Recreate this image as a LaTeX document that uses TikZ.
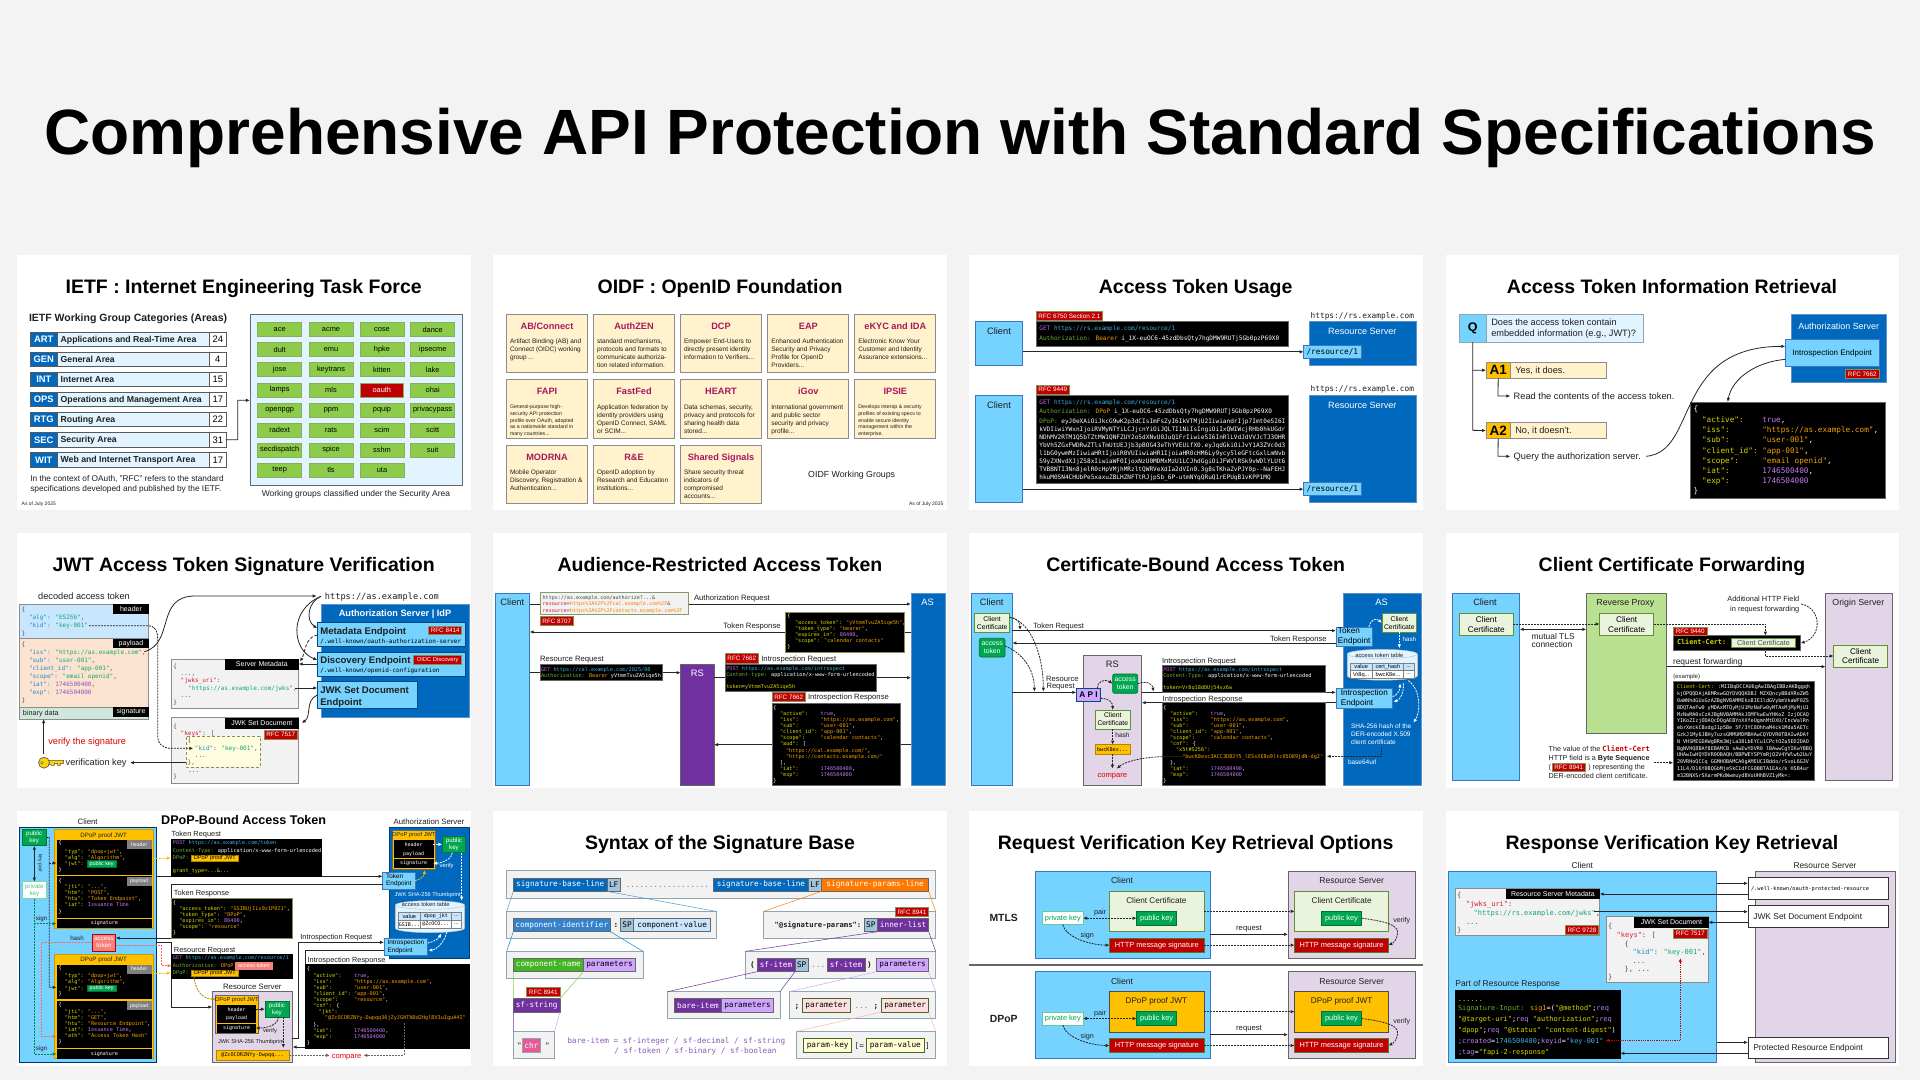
\documentclass[tikz,border=0pt]{standalone}
\usepackage{fontspec}
\setmainfont{Liberation Sans}
\newfontfamily\mono{DejaVu Sans Mono}
\usetikzlibrary{arrows.meta,calc}
\definecolor{pagebg}{HTML}{F3F3F3}
\definecolor{lbl}{HTML}{76D2FF}
\definecolor{lbd}{HTML}{3A78BE}
\definecolor{dbl}{HTML}{0069BE}
\definecolor{pal}{HTML}{E1F4FF}
\definecolor{pur}{HTML}{E1D5E7}
\definecolor{rfc}{HTML}{C00000}
\definecolor{olv}{HTML}{8C8C55}
\definecolor{gcell}{HTML}{8CCC4A}
\definecolor{cream}{HTML}{FFF2CC}
\definecolor{pink}{HTML}{A8185C}
\definecolor{org}{HTML}{FFC000}
\definecolor{grn}{HTML}{00A650}
\definecolor{cert}{HTML}{EAF3DC}
\definecolor{gry}{HTML}{F2F2F2}
\definecolor{bdr}{HTML}{8C8C8C}
\definecolor{jkey}{HTML}{D8D800}
\definecolor{jstr}{HTML}{F0A000}
\definecolor{jnum}{HTML}{C07CF5}
\definecolor{hmeth}{HTML}{C060E0}
\definecolor{hurl}{HTML}{40B0E0}
\definecolor{hhdr}{HTML}{70B030}
\definecolor{lkey}{HTML}{1E8CC8}
\definecolor{lstr}{HTML}{10A870}
\definecolor{lred}{HTML}{D02030}
\definecolor{lnum}{HTML}{9050C0}
\definecolor{dpur}{HTML}{7030A0}
\definecolor{lpur}{HTML}{CFA5FF}
\definecolor{spg}{HTML}{A3C3D8}
\definecolor{sbd}{HTML}{8FA5B0}
\definecolor{rpink}{HTML}{F4817A}
\definecolor{hdrf}{HTML}{C9E6FF}
\definecolor{plf}{HTML}{FBE3D0}
\definecolor{sgf}{HTML}{D0E8DC}
\definecolor{cellb}{HTML}{C9E6FF}
\newcommand\jK[1]{\textcolor{jkey}{#1}}
\newcommand\jS[1]{\textcolor{jstr}{#1}}
\newcommand\jN[1]{\textcolor{jnum}{#1}}
\newcommand\hM[1]{\textcolor{hmeth}{#1}}
\newcommand\hU[1]{\textcolor{hurl}{#1}}
\newcommand\hH[1]{\textcolor{hhdr}{#1}}
\newcommand\lK[1]{\textcolor{lkey}{#1}}
\newcommand\lS[1]{\textcolor{lstr}{#1}}
\newcommand\lR[1]{\textcolor{lred}{#1}}
\newcommand\lN[1]{\textcolor{lnum}{#1}}
\newcommand\fs[1]{\fontsize{#1}{\fpeval{1.18*#1}}\selectfont}
\newcount\tn
\newcommand\bx[7][]{%
 \pgfmathsetmacro\bxw{(#5-(#3))/3}\pgfmathsetmacro\bxh{(#6-(#4))/3}%
 \node[box,#1,minimum width=\bxw pt,minimum height=\bxh pt] (#2) at ({(#3+#5)/2},{(#4+#6)/2}) {#7};}
\newcommand\tl[5][]{\global\advance\tn by 1 \node[txt,anchor=base west,font=\fs{#4},#1] (t\the\tn) at (#2,{#3+1.05*#4}) {#5};}
\newcommand\tc[5][]{\global\advance\tn by 1 \node[txt,anchor=base,font=\fs{#4},#1] (t\the\tn) at (#2,{#3+1.05*#4}) {#5};}
\newcommand\tr[5][]{\global\advance\tn by 1 \node[txt,anchor=base east,font=\fs{#4},#1] (t\the\tn) at (#2,{#3+1.05*#4}) {#5};}
\def\cz{6}
\newcommand\cl[4][]{\global\advance\tn by 1 \node[txt,anchor=base west,text=white,font=\mono\fs{\cz},#1] (t\the\tn) at (#2,{#3+1.05*\cz}) {#4};}
\newcommand\ptitle[4]{\global\advance\tn by 1 \node[txt,anchor=base,text=black,font=\bfseries\fs{#3}] (t\the\tn) at (#1,{#2+3+1.05*#3}) {#4};}
\newcommand\rfcb[6][6.3]{\bx[rfcs,font=\fs{#1}]{#2}{#3}{#4}{#5}{#6}}
\newcommand\Q[1]{\hspace*{\fpeval{#1*0.602}em}}
\newcommand\cpt[3]{\coordinate (#1) at (#2,#3);}
\newcommand\oc[8]{\bx[ocell]{#1}{#2}{#3}{#2+243}{#3+176}{}%
 \tc[text=pink,font=\bfseries\fs{9.2}]{#2+122}{#3+37}{9.2}{#4}%
 \tl{#2+11}{#3+83}{6.5}{#5}\tl{#2+11}{#3+107}{6.5}{#6}\tl{#2+11}{#3+131}{6.5}{#7}\tl{#2+11}{#3+155}{6.5}{#8}}
\tikzset{
 pn/.style 2 args={shift={(#1,#2)},x=0.33333pt,y=-0.33333pt},
 box/.style={draw,inner sep=0pt,outer sep=0pt,align=center,line width=.7pt},
 txt/.style={inner sep=0pt,outer sep=0pt,text=black!88},
 rfcs/.style={box,fill=rfc,draw=olv,text=white},
 blk/.style={box,fill=black,draw=black!60,text=white},
 blue/.style={box,fill=lbl,draw=lbd},
 dblue/.style={box,fill=dbl,draw=lbd!80!white,text=white},
 plum/.style={box,fill=pur,draw=black!60},
 crt/.style={box,fill=cert,draw=gcell!70!black},
 ocell/.style={box,fill=cream,draw=bdr},
 grycell/.style={box,fill=gry,draw=bdr},
 gnb/.style={box,fill=grn,draw=grn!70!black,text=white},
 orb/.style={box,fill=org,draw=org!70!black},
 pk/.style={box,fill=white,draw=grn!60,text=grn},
 ln/.style={line width=.8pt,draw=black!85},
 ar/.style={ln,-{Latex[length=4pt,width=3.4pt]}},
 bar/.style={ln,{Latex[length=4pt,width=3.4pt]}-{Latex[length=4pt,width=3.4pt]}},
 dar/.style={ar,dash pattern=on 2pt off 1pt},
 dbar/.style={bar,dash pattern=on 2pt off 1pt},
 war/.style={dar,draw=white},
 tagk/.style={box,fill=black,draw=black,text=white,font=\fs{7}},
 tagg/.style={box,fill=black!50,draw=black!50,text=white,font=\fs{5.2}},
 sm/.style={box,line width=.9pt,font=\mono\fs{7.7},draw=black!60},
 sbox/.style={box,fill=gry,draw=sbd,line width=.9pt},
 fan/.style={line width=.5pt}
}
\begin{document}
\begin{tikzpicture}[x=1pt,y=-1pt]
\useasboundingbox (0,0) rectangle (1920,1080);
\fill[pagebg] (0,0) rectangle (1920,1080);
\node[txt,anchor=base,text=black,font=\bfseries\fs{64}] (maintitle) at (960,154) {Comprehensive API Protection with Standard Specifications};

% ---------------- Panel 1
\begin{scope}[pn={15}{252},name prefix=p1-]
\fill[white] (6,9) rectangle (1367,773);
\ptitle{686}{100}{19.5}{IETF : Internet Engineering Task Force}
\tl[font=\bfseries\fs{10.5}]{42}{196}{10.5}{IETF Working Group Categories (Areas)}
\newcommand\arow[6]{%
 \bx[fill=pal,draw=black!65,anchor=center]{#1b}{128}{#2}{584}{#3}{}%
 \bx[fill=dbl,draw=black!65,text=white,font=\bfseries\fs{9.4}]{#1a}{45}{#2}{128}{#3}{#4}%
 \bx[fill=white,draw=black!65,font=\fs{9.4}]{#1n}{584}{#2}{633}{#3}{#6}%
 \tl[font=\bfseries\fs{8.7}]{137}{(#2+#3)/2}{8.7}{#5}}
\arow{art}{240}{284}{ART}{Applications and Real-Time Area}{24}
\arow{gen}{301}{344}{GEN}{General Area}{4}
\arow{int}{361}{404}{INT}{Internet Area}{15}
\arow{ops}{422}{464}{OPS}{Operations and Management Area}{17}
\arow{rtg}{482}{524}{RTG}{Routing Area}{22}
\arow{sec}{542}{585}{SEC}{Security Area}{31}
\arow{wit}{602}{645}{WIT}{Web and Internet Transport Area}{17}
\tl{46}{680}{8.3}{In the context of OAuth, "RFC" refers to the standard}
\tl{46}{711}{8.3}{specifications developed and published by the IETF.}
\tl{20}{755}{5}{As of July 2025}
\bx[fill=pal,draw=black!60]{wg}{705}{188}{1342}{700}{}
\newcommand\gc[4][gcell]{\bx[fill=#1,draw=gcell!60!gray,font=\fs{7.4}]{g#3#2}{#2}{#3-21}{#2+132}{#3+21}{#4}}
\gc{728}{233}{ace}\gc{882}{233}{acme}\gc{1035}{233}{cose}\gc{1187}{233}{dance}
\gc{728}{293}{dult}\gc{882}{293}{emu}\gc{1035}{293}{hpke}\gc{1187}{293}{ipsecme}
\gc{728}{353}{jose}\gc{882}{353}{keytrans}\gc{1035}{353}{kitten}\gc{1187}{353}{lake}
\gc{728}{414}{lamps}\gc{882}{414}{mls}
\bx[fill=rfc,draw=gcell!60!gray,text=white,font=\fs{7.4}]{oauth}{1035}{393}{1166}{435}{oauth}
\gc{1187}{414}{ohai}
\gc{728}{474}{openpgp}\gc{882}{474}{ppm}\gc{1035}{474}{pquip}\gc{1187}{474}{privacypass}
\gc{728}{534}{radext}\gc{882}{534}{rats}\gc{1035}{534}{scim}\gc{1187}{534}{scitt}
\gc{728}{594}{secdispatch}\gc{882}{594}{spice}\gc{1035}{594}{sshm}\gc{1187}{594}{suit}
\gc{728}{655}{teep}\gc{882}{655}{tls}\gc{1035}{655}{uta}
\tc{1023}{725}{8.5}{Working groups classified under the Security Area}
\cpt{wgin}{705}{445}
\draw[ar] (secn.east) -- (668,563) -- (668,445) -- (wgin);
\end{scope}

% ---------------- Panel 2
\begin{scope}[pn={490}{252},name prefix=p2-]
\fill[white] (9,9) rectangle (1371,773);
\ptitle{690}{100}{19.5}{OIDF : OpenID Foundation}
\oc{a}{49}{186}{AB/Connect}{Artifact Binding (AB) and}{Connect (OIDC) working}{group ...}{}
\oc{b}{310}{186}{AuthZEN}{standard mechanisms,}{protocols and formats to}{communicate authoriza-}{tion related information.}
\oc{c}{571}{186}{DCP}{Empower End-Users to}{directly present identity}{information to Verifiers...}{}
\oc{d}{833}{186}{EAP}{Enhanced Authentication}{Security and Privacy}{Profile for OpenID}{Providers...}
\oc{e}{1094}{186}{eKYC and IDA}{Electronic Know Your}{Customer and Identity}{Assurance extensions...}{}
\oc{f}{49}{382}{FAPI}{}{}{}{}
\tl{60}{464}{5.2}{General-purpose high-}\tl{60}{484}{5.2}{security API protection}\tl{60}{505}{5.2}{profile over OAuth, adopted}\tl{60}{525}{5.2}{as a nationwide standard in}\tl{60}{546}{5.2}{many countries...}
\oc{g}{310}{382}{FastFed}{Application federation by}{identity providers using}{OpenID Connect, SAML}{or SCIM...}
\oc{h}{571}{382}{HEART}{Data schemas, security,}{privacy and protocols for}{sharing health data}{stored...}
\oc{i}{833}{382}{iGov}{International government}{and public sector}{security and privacy}{profile...}
\oc{j}{1094}{382}{IPSIE}{}{}{}{}
\tl{1105}{464}{5.2}{Develops interop \& security}\tl{1105}{484}{5.2}{profiles of existing specs to}\tl{1105}{505}{5.2}{enable secure identity}\tl{1105}{525}{5.2}{management within the}\tl{1105}{546}{5.2}{enterprise.}
\oc{k}{49}{579}{MODRNA}{Mobile Operator}{Discovery, Registration \&}{Authentication...}{}
\oc{l}{310}{579}{R\&E}{OpenID adoption by}{Research and Education}{institutions...}{}
\oc{m}{571}{579}{Shared Signals}{Share security threat}{indicators of}{compromised}{accounts...}
\tc{1085}{668}{8.8}{OIDF Working Groups}
\tr{1360}{755}{5}{As of July 2025}
\end{scope}

% ---------------- Panel 3
\begin{scope}[pn={965}{252},name prefix=p3-]
\fill[white] (12,9) rectangle (1374,773);
\ptitle{692}{100}{19.5}{Access Token Usage}
\def\cz{6.1}
\bx[blue]{c1}{31}{209}{173}{339}{}\tc{102}{238}{9.3}{Client}
\bx[dblue]{rs1}{1032}{209}{1354}{339}{}\tc[text=white]{1192}{238}{9.1}{Resource Server}
\tc[font=\mono\fs{7.8}]{1192}{190}{7.8}{https://rs.example.com}
\bx[blue,font=\mono\fs{7.8}]{r1}{1016}{280}{1188}{319}{/resource/1}
\draw[ar] (c1.east |- r1.west) -- (r1.west);
\bx[blk]{b1}{213}{209}{970}{283}{}
\rfcb{t1}{213}{177}{413}{206}{RFC 6750 Section 2.1}
\cl{223}{230}{\hM{GET} \hU{https://rs.example.com/resource/1}}
\cl{223}{258}{\hH{Authorization:} \jS{Bearer} i\_1X-euOC6-45zdDbsQty7hgDMW9RUTj5Gb0pzP69X0}
\bx[blue]{c2}{31}{430}{173}{752}{}\tc{102}{459}{9.3}{Client}
\bx[dblue]{rs2}{1032}{430}{1354}{752}{}\tc[text=white]{1192}{459}{9.1}{Resource Server}
\tc[font=\mono\fs{7.8}]{1192}{411}{7.8}{https://rs.example.com}
\bx[blue,font=\mono\fs{7.8}]{r2}{1016}{692}{1188}{731}{/resource/1}
\draw[ar] (c2.east |- r2.west) -- (r2.west);
\bx[blk]{b2}{213}{431}{970}{695}{}
\rfcb{t2}{213}{399}{314}{427}{RFC 9449}
\cl{223}{451}{\hM{GET} \hU{https://rs.example.com/resource/1}}
\cl{223}{479}{\hH{Authorization:} \jS{DPoP} i\_1X-euOC6-45zdDbsQty7hgDMW9RUTj5Gb0pzP69X0}
\cl{223}{507}{\hH{DPoP:} eyJ0eXAiOiJkcG9wK2p3dCIsImFsZyI6IkVTMjU2IiwiandrIjp7Imt0eSI6I}
\cl{223}{531}{kVDIiwiYWxnIjoiRVMyNTYiLCJjcnYiOiJQLTI1NiIsIngiOiIxQWIWcjRHb0hkUGdr}
\cl{223}{555}{NDhMV2RTM1Q5bTZtMW1QNFZUY2o5dXNvU0JuQ1FrIiwieSI6InRlLVdJdVVJcTJ3OHR}
\cl{223}{579}{YbVh5ZGxFWDRwZTlsTmUtUEJjb3pBOG43eThYVEUifX0.eyJqdGkiOiJvY1A3ZVc0d3}
\cl{223}{603}{l1bG0ywmMzIiwiaHRtIjoiR0VUIiwiaHR1IjoiaHR0cHM6Ly9ycy5leGFtcGxlLmNvb}
\cl{223}{627}{S9yZXNvdXJjZS8xIiwiaWF0IjoxNzU0MDMxMzU1LCJhdGgiOiJFWVlRSk9vWDlYLUt6}
\cl{223}{651}{TVBBNTI3Nn8jelR0cHpVMjhMRzltQWRVeXdIa2dVIn0.3g8sTKhaZvPJY0p--NaFEHJ}
\cl{223}{675}{hkuM0SN4CHUbPe5xaxuZBLHZNFTtRJjpSb\_6P-utmNYqQRuQ1rEPUqB1vKPP1MQ}
\end{scope}

% ---------------- Panel 4
\begin{scope}[pn={1442}{252},name prefix=p4-]
\fill[white] (12,9) rectangle (1371,773);
\ptitle{690}{100}{19.5}{Access Token Information Retrieval}
\bx[blue,draw=sbd,font=\bfseries\fs{12.5}]{q}{52}{188}{133}{270}{Q}
\bx[fill=pal,draw=sbd]{qt}{133}{188}{605}{270}{}
\tl{148}{212}{9.2}{Does the access token contain}
\tl{148}{245}{9.2}{embedded information (e.g., JWT)?}
\bx[fill=org,draw=bdr,font=\bfseries\fs{13.5}]{a1}{132}{330}{205}{379}{A1}
\bx[ocell]{a1t}{205}{330}{494}{379}{}\tl{220}{355}{9.2}{Yes, it does.}
\bx[fill=org,draw=bdr,font=\bfseries\fs{13.5}]{a2}{132}{511}{205}{560}{A2}
\bx[ocell]{a2t}{205}{511}{494}{560}{}\tl{220}{535}{9.2}{No, it doesn't.}
\draw[ln] (q.south) -- (92,535);
\draw[ar] (92,355) -- (a1.west);
\draw[ar] (92,535) -- (a2.west);
\cpt{r1}{205}{432}\cpt{r2}{205}{613}
\tl{215}{432}{9.3}{Read the contents of the access token.}
\tl{215}{613}{9.3}{Query the authorization server.}
\draw[ar] (a1.south) -- (168,432) -- (r1);
\draw[ar] (a2.south) -- (168,613) -- (r2);
\bx[dblue]{as}{1049}{188}{1332}{390}{}
\tc[text=white]{1190}{222}{8.9}{Authorization Server}
\bx[blue,font=\fs{8}]{ie}{1030}{263}{1311}{343}{Introspection Endpoint}
\rfcb{t}{1211}{352}{1311}{379}{RFC 7662}
\bx[blk]{b}{744}{452}{1330}{739}{}
\cpt{qs}{612}{613}\cpt{ii}{1030}{283}\cpt{io}{1030}{322}\cpt{bt}{857}{450}
\draw[ar] (qs) .. controls (770,600) and (690,283) .. (ii);
\draw[ar] (io) .. controls (940,330) and (870,380) .. (bt);
\def\cz{7.7}
\cl{755}{471}{\{}
\cl{780}{502}{\jK{"active":}\Q{4}\jN{true},}
\cl{780}{533}{\jK{"iss":}\Q{7}\jS{"https://as.example.com"},}
\cl{780}{564}{\jK{"sub":}\Q{7}\jS{"user-001"},}
\cl{780}{595}{\jK{"client\_id":}\Q{1}\jS{"app-001"},}
\cl{780}{625}{\jK{"scope":}\Q{5}\jS{"email openid"},}
\cl{780}{656}{\jK{"iat":}\Q{7}\jN{1746500400},}
\cl{780}{686}{\jK{"exp":}\Q{7}\jN{1746504000}}
\cl{755}{717}{\}}
\end{scope}

% ---------------- Panel 5
\begin{scope}[pn={15}{530},name prefix=p5-]
\fill[white] (6,9) rectangle (1367,773);
\ptitle{686}{100}{19.5}{JWT Access Token Signature Verification}
\tc{207}{199}{9.2}{decoded access token}
\def\cz{6}
\bx[fill=hdrf,draw=bdr]{hd}{14}{222}{400}{325}{}
\bx[tagk]{hdt}{296}{222}{400}{249}{header}
\cl[text=black!70]{20}{238}{\{}
\cl[text=black!70]{42}{263}{\lK{"alg":} \lS{"ES256"},}
\cl[text=black!70]{42}{287}{\lK{"kid":} \lS{"key-001"}}
\cl[text=black!70]{20}{311}{\}}
\bx[fill=plf,draw=bdr]{pl}{14}{325}{400}{531}{}
\bx[tagk]{plt}{296}{327}{400}{353}{payload}
\cl[text=black!70]{20}{343}{\{}
\cl[text=black!70]{42}{367}{\lK{"iss":} \lS{"https://as.example.com"},}
\cl[text=black!70]{42}{391}{\lK{"sub":} \lS{"user-001"},}
\cl[text=black!70]{42}{415}{\lK{"client\_id":} \lS{"app-001"},}
\cl[text=black!70]{42}{439}{\lK{"scope":} \lS{"email openid"},}
\cl[text=black!70]{42}{463}{\lK{"iat":} \lN{1746500400},}
\cl[text=black!70]{42}{487}{\lK{"exp":} \lN{1746504000}}
\cl[text=black!70]{20}{511}{\}}
\bx[fill=sgf,draw=bdr]{sg}{14}{531}{400}{567}{}
\bx[tagk]{sgt}{296}{533}{400}{559}{signature}
\tl{24}{549}{7.2}{binary data}
\tl[font=\mono\fs{8.6}]{930}{200}{8.6}{https://as.example.com}
\cpt{https}{918}{199}
\bx[dblue]{as}{918}{222}{1362}{562}{}
\tc[text=white,font=\bfseries\fs{9.2}]{1140}{250}{9.2}{Authorization Server | IdP}
\bx[blue,draw=dbl!70!black]{me}{907}{278}{1350}{350}{}
\tl[font=\bfseries\fs{9.6}]{916}{302}{9.6}{Metadata Endpoint}
\cl[text=black]{916}{333}{/.well-known/oauth-authorization-server}
\rfcb{t1}{1241}{288}{1340}{314}{RFC 8414}
\bx[blue,draw=dbl!70!black]{de}{907}{367}{1350}{438}{}
\tl[font=\bfseries\fs{9.6}]{916}{391}{9.6}{Discovery Endpoint}
\cl[text=black]{916}{421}{/.well-known/openid-configuration}
\rfcb[5.8]{t2}{1196}{376}{1340}{402}{OIDC Discovery}
\bx[blue,draw=dbl!70!black]{jw}{907}{455}{1208}{535}{}
\tl[font=\bfseries\fs{9.6}]{916}{480}{9.6}{JWK Set Document}
\tl[font=\bfseries\fs{9.6}]{916}{515}{9.6}{Endpoint}
\bx[grycell]{sm}{468}{387}{851}{535}{}
\bx[tagk]{smt}{630}{387}{851}{417}{Server Metadata}
\cl[text=black!70]{475}{408}{\{}
\cl[text=black!70]{497}{431}{...,}
\cl[text=black!70]{497}{451}{\lR{"jwks\_uri"}:}
\cl[text=black!70]{520}{474}{\lS{"https://as.example.com/jwks"},}
\cl[text=black!70]{497}{497}{...}
\cl[text=black!70]{475}{516}{\}}
\bx[grycell]{js}{468}{563}{851}{760}{}
\bx[tagk]{jst}{630}{564}{851}{594}{JWK Set Document}
\rfcb{t3}{747}{600}{847}{628}{RFC 7517}
\bx[fill=yellow!12!white,draw=olv,densely dashed]{kb}{513}{619}{735}{712}{}
\cl[text=black!70]{475}{588}{\{}
\cl[text=black!70]{497}{610}{\lR{"keys"}: [}
\cl[text=black!70]{518}{632}{\{}
\cl[text=black!70]{540}{654}{\lK{"kid"}: \lS{"key-001"},}
\cl[text=black!70]{540}{677}{...}
\cl[text=black!70]{518}{696}{\},}
\cl[text=black!70]{520}{720}{...}
\cl[text=black!70]{475}{740}{\}}
\cpt{kid}{222}{287}\cpt{kt}{535}{655}\cpt{iss}{388}{365}\cpt{ji}{840}{474}
\cpt{m1}{907}{295}\cpt{m2}{907}{315}\cpt{d1}{907}{390}\cpt{s1}{855}{395}\cpt{j1}{907}{495}\cpt{j2}{860}{579}
\draw[dar] (kid) -- (395,287) .. controls (425,287) and (428,305) .. (428,330) -- (428,615) .. controls (428,645) and (445,655) .. (470,655) -- (kt);
\draw[ar] (iss) .. controls (480,340) and (420,198) .. (540,198) -- (905,198);
\draw[ar] (https) .. controls (880,215) and (870,270) .. (m1);
\draw[ar] (https) .. controls (820,240) and (830,360) .. (d1);
\draw[ln,densely dashed,-{Latex[length=4pt,width=3.4pt]}] (m2) .. controls (870,320) and (870,370) .. (s1);
\draw[ar] (de.west |- smt.east) -- (smt.east);
\draw[ar] (ji) -- (jw.west |- ji);
\draw[ar] (j1) .. controls (870,510) and (890,560) .. (j2);
\cpt{kl}{513}{698}\cpt{vk}{345}{698}\cpt{ku}{86}{672}
\draw[ar] (kl) -- (vk);
\draw[ar] (ku) -- (sg.south -| ku);
\tl[text=red!85!black]{100}{635}{9.2}{verify the signature}
\tl{152}{698}{9.2}{verification key}
\fill[org!70!yellow,draw=black!70,line width=.6pt] (100,691) -- (146,691) -- (146,700) -- (136,700) -- (136,706) -- (128,706) -- (128,700) -- (118,700) -- (118,706) -- (110,706) -- (106,704) -- (100,704) -- cycle;
\fill[org!70!yellow,draw=black!70,line width=.6pt] (87,698) circle [radius=5.5pt];
\fill[white,draw=black!70,line width=.4pt] (81,698) circle [radius=1.3pt];
\end{scope}

% ---------------- Panel 6
\begin{scope}[pn={490}{530},name prefix=p6-]
\fill[white] (9,9) rectangle (1371,773);
\ptitle{690}{100}{19.5}{Audience-Restricted Access Token}
\def\cz{5.2}
\bx[blue]{cl}{16}{189}{119}{767}{}\tc{67}{218}{9.3}{Client}
\bx[dblue]{as}{1263}{189}{1365}{767}{}\tc[text=white]{1313}{218}{9.3}{AS}
\bx[fill=dpur,draw=black!60,text=white]{rs}{572}{402}{672}{767}{}\tc[text=white]{622}{431}{9.3}{RS}
\cpt{y1}{0}{222}\cpt{y2}{0}{306}\cpt{y3}{0}{428}\cpt{y4}{0}{443}\cpt{y5}{0}{644}
\draw[ar] (cl.east |- y1) -- (as.west |- y1);
\draw[ar] (as.west |- y2) -- (cl.east |- y2);
\draw[ar] (cl.east |- y3) -- (rs.west |- y3);
\draw[ar] (rs.east |- y4) -- (as.west |- y4);
\draw[ar] (as.west |- y5) -- (rs.east |- y5);
\bx[fill=gry,draw=gcell!40!gray]{ar}{150}{188}{596}{254}{}
\def\cz{5.05}
\cl[text=black!70]{158}{203}{https://as.example.com/authorize?...\&}
\cl[text=black!70]{158}{222}{\lR{resource}=\textcolor{orange}{https\%3A\%2F\%2Fcal.example.com\%2F}\&}
\cl[text=black!70]{158}{241}{\lR{resource}=\textcolor{orange}{https\%3A\%2F\%2Fcontacts.example.com\%2F}}
\def\cz{5.2}
\tl{612}{204}{7.7}{Authorization Request}
\rfcb{t1}{150}{259}{251}{287}{RFC 8707}
\bx[blk,draw=olv]{tr}{886}{246}{1243}{367}{}
\tr{872}{288}{7.7}{Token Response}
\cl{892}{257}{\{}
\cl{915}{278}{\jK{"access\_token":} \jS{"yVtmmTvuZA5iqe5h"},}
\cl{915}{296}{\jK{"token\_type":} \jS{"bearer"},}
\cl{915}{314}{\jK{"expires\_in":} \jN{86400},}
\cl{915}{332}{\jK{"scope":} \jS{"calendar contacts"}}
\cl{892}{350}{\}}
\tl{150}{385}{7.7}{Resource Request}
\bx[blk]{rr}{150}{403}{516}{452}{}
\cl{153}{418}{\hM{GET} \hU{https://cal.example.com/2025/08}}
\cl{153}{437}{\hH{Authorization:} \jS{Bearer} yVtmmTvuZA5iqe5h}
\rfcb{t2}{705}{371}{806}{399}{RFC 7662}
\tl{814}{385}{7.7}{Introspection Request}
\bx[blk]{ir}{705}{403}{1160}{484}{}
\cl{709}{415}{\hM{POST} \hU{https://as.example.com/introspect}}
\cl{709}{434}{\hH{Content-type:} application/x-www-form-urlencoded}
\cl{709}{470}{\jK{token}=\jK{yVtmmTvuZA5iqe5h}}
\rfcb{t3}{846}{488}{946}{515}{RFC 7662}
\tl{954}{500}{7.7}{Introspection Response}
\bx[blk]{ip}{846}{520}{1232}{767}{}
\cl{850}{533}{\{}
\cl{870}{551}{\jK{"active":}\Q{4}\jN{true},}
\cl{870}{569}{\jK{"iss":}\Q{7}\jS{"https://as.example.com"},}
\cl{870}{587}{\jK{"sub":}\Q{7}\jS{"user-001"},}
\cl{870}{605}{\jK{"client\_id":}\Q{1}\jS{"app-001"},}
\cl{870}{624}{\jK{"scope":}\Q{5}\jS{"calendar contacts"},}
\cl{870}{642}{\jK{"aud":} [}
\cl{888}{661}{\jS{"https://cal.example.com/"},}
\cl{888}{679}{\jS{"https://contacts.example.com/"}}
\cl{870}{697}{],}
\cl{870}{716}{\jK{"iat":}\Q{7}\jN{1746500400},}
\cl{870}{734}{\jK{"exp":}\Q{7}\jN{1746504000}}
\cl{850}{752}{\}}
\end{scope}

% ---------------- Panel 7
\begin{scope}[pn={965}{530},name prefix=p7-]
\fill[white] (12,9) rectangle (1374,773);
\ptitle{692}{100}{19.5}{Certificate-Bound Access Token}
\def\cz{5.2}
\bx[blue]{cl}{19}{189}{142}{767}{}\tc{80}{218}{9.3}{Client}
\bx[dblue]{as}{1134}{189}{1368}{767}{}\tc[text=white]{1250}{218}{9.3}{AS}
\bx[crt,font=\fs{6.8}]{cc}{29}{251}{134}{307}{Client\\Certificate}
\bx[gnb,rounded corners=2pt,font=\fs{6.8}]{at}{43}{325}{120}{381}{access\\token}
\bx[plum]{rs}{354}{375}{530}{767}{}\tc{442}{403}{9.3}{RS}
\bx[blue,font=\fs{8.2},align=left]{te}{1113}{291}{1222}{349}{Token\\Endpoint}
\bx[blue,font=\fs{8.2},align=left]{ie}{1113}{476}{1283}{534}{Introspection\\Endpoint}
\bx[box,fill=lpur,draw=dbl!70!black,font=\bfseries\fs{8.2}]{api}{334}{475}{407}{514}{A P I}
\cpt{y1}{0}{302}\cpt{y2}{0}{339}\cpt{y3}{0}{487}\cpt{y4}{0}{518}
\draw[ar] (cc.east |- y1) ++(8,0) -- (te.west |- y1);
\draw[ln] (cl.east |- y1) -- ++(30,0);
\draw[ar] (te.west |- y2) -- (cl.east |- y2);
\draw[ar] (cl.east |- y3) -- (api.west |- y3);
\draw[ar] (rs.east |- y3) -- (ie.west |- y3);
\draw[ar] (ie.west |- y4) -- (rs.east |- y4);
\tl{205}{288}{7.6}{Token Request}
\tr{1085}{325}{7.6}{Token Response}
\tc{292}{445}{7.6}{Resource}\tc{287}{468}{7.6}{Request}
\tl{591}{392}{7.6}{Introspection Request}
\tl{593}{505}{7.6}{Introspection Response}
\bx[blk]{ir}{591}{407}{1081}{487}{}
\cl{595}{420}{\hM{POST} \hU{https://as.example.com/introspect}}
\cl{595}{438}{\hH{Content-Type:} application/x-www-form-urlencoded}
\cl{595}{474}{\jK{token=Vr8q18dDUj54xz6w}}
\bx[blk]{ip}{591}{518}{1081}{767}{}
\cl{595}{533}{\{}
\cl{615}{551}{\jK{"active":}\Q{4}\jN{true},}
\cl{615}{569}{\jK{"iss":}\Q{7}\jS{"https://as.example.com"},}
\cl{615}{587}{\jK{"sub":}\Q{7}\jS{"user-001"},}
\cl{615}{605}{\jK{"client\_id":}\Q{1}\jS{"app-001"},}
\cl{615}{624}{\jK{"scope":}\Q{5}\jS{"calendar contacts"},}
\cl{615}{642}{\jK{"cnf":} \{}
\cl{633}{660}{\jK{"x5t\#S256":}}
\cl{652}{679}{\jS{"bwcK8esc3ACC3DB2Y5\_lESsXE8o9ltc05O89jdN-dg2"}}
\cl{615}{697}{\},}
\cl{615}{716}{\jK{"iat":}\Q{7}\jN{1746500400},}
\cl{615}{734}{\jK{"exp":}\Q{7}\jN{1746504000}}
\cl{595}{752}{\}}
\bx[gnb,rounded corners=2pt,font=\fs{6.8}]{at2}{443}{432}{518}{490}{access\\token}
\bx[crt,font=\fs{6.8}]{cr}{391}{540}{496}{597}{Client\\Certificate}
\bx[orb,font=\mono\fs{5.2}]{bw}{390}{644}{496}{672}{bwcK8es...}
\tl{451}{617}{6.6}{hash}
\tc[text=red!85!black]{442}{735}{7.6}{compare}
\bx[crt,font=\fs{6.8}]{ca}{1251}{251}{1355}{307}{Client\\Certificate}
\tl[text=white]{1313}{328}{6.2}{hash}
% cylinder
\fill[pal,draw=black!25] (1252,438) ellipse [x radius=35pt,y radius=4.2pt];
\fill[pal] (1147,372) rectangle (1357,438);
\draw[black!25] (1147,372) -- (1147,438) (1357,372) -- (1357,438);
\fill[pal,draw=black!25] (1252,372) ellipse [x radius=35pt,y radius=4.6pt];
\tc{1243}{375}{5.8}{access token table}
\bx[fill=cellb,draw=black!50,font=\fs{5.6}]{v1}{1155}{399}{1222}{422}{value}
\bx[fill=cellb,draw=black!50,font=\fs{5.6}]{v2}{1222}{399}{1315}{422}{cert\_hash}
\bx[fill=cellb,draw=black!50,font=\fs{5.6}]{v3}{1315}{399}{1347}{422}{...}
\bx[fill=white,draw=black!50,font=\fs{5.6}]{w1}{1155}{422}{1222}{446}{Vr8q...}
\bx[fill=white,draw=black!50,font=\fs{5.6}]{w2}{1222}{422}{1315}{446}{bwcK8e...}
\bx[fill=white,draw=black!50,font=\fs{5.6}]{w3}{1315}{422}{1347}{446}{...}
\tl[text=white]{1158}{588}{6.5}{SHA-256 hash of the}
\tl[text=white]{1158}{612}{6.5}{DER-encoded X.509}
\tl[text=white]{1158}{637}{6.5}{client certificate}
\tl[text=white]{1149}{698}{6.5}{base64url}
\draw[dar] (api.north east) ++(-10,0) .. controls (395,455) and (420,445) .. (at2.west);
\draw[dar] (407,505) .. controls (435,505) and (443,520) .. (443,540);
\draw[dar] (cr.south -| bw.north) -- (bw.north);
\draw[dar] (bw.south) -- (442,716);
\draw[dar] (at2.east) .. controls (550,450) and (563,465) .. (565,485);
\draw[dar] (cc.north east) ++(0,11) .. controls (160,265) and (165,280) .. (165,300);
\draw[dar] (cc.north east) ++(0,11) .. controls (200,275) and (235,380) .. (235,485);
\draw[dar] (at.east) ++(0,-5) .. controls (175,370) and (208,420) .. (208,485);
\draw[dar] (655,679) -- (590,680) .. controls (530,682) and (480,695) .. (455,716);
\draw[dar] (1250,650) -- (1250,679) -- (1085,679);
\draw[war] (1212,291) .. controls (1216,270) and (1232,262) .. (ca.west);
\draw[war] (ca.south) -- (1303,355);
\draw[war] (1330,452) .. controls (1370,480) and (1365,550) .. (1345,578);
\draw[war] (1283,500) .. controls (1298,495) and (1305,480) .. (1305,460);
\draw[war] (1315,460) .. controls (1318,485) and (1305,510) .. (1285,515);
\end{scope}

% ---------------- Panel 8
\begin{scope}[pn={1442}{530},name prefix=p8-]
\fill[white] (12,9) rectangle (1371,773);
\ptitle{690}{100}{19.5}{Client Certificate Forwarding}
\def\cz{5.1}
\bx[blue]{cl}{31}{189}{233}{752}{}\tc{129}{218}{9.2}{Client}
\bx[fill=cert,draw=gcell!70!black,font=\fs{8.2}]{c1}{52}{250}{214}{316}{Client\\Certificate}
\bx[fill=gcell!60!white,draw=black!60]{rp}{433}{189}{674}{611}{}\tc{550}{218}{8.8}{Reverse Proxy}
\bx[fill=cert,draw=gcell!70!black,font=\fs{8.2}]{c2}{473}{250}{635}{316}{Client\\Certificate}
\bx[plum]{os}{1151}{189}{1352}{752}{}\tc{1249}{218}{8.8}{Origin Server}
\bx[fill=cert,draw=gcell!70!black,font=\fs{8.2}]{c3}{1175}{346}{1337}{411}{Client\\Certificate}
\cpt{y1}{0}{298}\cpt{y2}{0}{282}\cpt{y3}{0}{410}\cpt{y4}{0}{378}
\draw[bar] (cl.east |- y1) -- (rp.west |- y1);
\draw[dar] (c1.east |- y2) -- (c2.west |- y2);
\tl{269}{321}{8.4}{mutual TLS}
\tl{269}{345}{8.4}{connection}
\bx[blk]{bk}{694}{317}{1076}{362}{}
\rfcb{t1}{694}{293}{795}{317}{RFC 9440}
\cl[font=\mono\bfseries\fs{6.8}]{705}{339}{\jK{Client-Cert:}}
\bx[fill=cert,draw=gcell!70!black,font=\fs{7.2},text=black!70]{c4}{868}{324}{1061}{353}{Client Certificate}
\cpt{bkt}{970}{317}\cpt{bkb}{970}{362}
\draw[dar] (c2.east |- y2) -- (970,282) -- (bkt);
\draw[dar] (bkb) -- (970,378) -- (c3.west |- y4);
\tr{1072}{208}{7.4}{Additional HTTP Field}
\tr{1072}{236}{7.4}{in request forwarding}
\draw[dar] (1078,222) .. controls (1140,235) and (1140,320) .. (bk.east);
\tl{693}{394}{8.4}{request forwarding}
\draw[ar] (rp.east |- y3) -- (os.west |- y3);
\tl{694}{440}{6}{(example)}
\bx[blk]{ex}{694}{454}{1117}{752}{}
\cl{705}{471}{\jK{Client-Cert:} :MIIBqDCCAU6gAwIBAgIBBzAKBggqh}
\cl{705}{491}{kjOPQQDAjA6MRswGQYDVQQKDBJ MZXQncyBBdXRoZW5}
\cl{705}{512}{0aWNhdGUxGzAZBgNVBAMMEkxBIE1ldGVybmVkaWF0ZS}
\cl{705}{532}{BDQTAeFw0 yMDAxMTQyMjU1MzNaFw0yMTAxMjMyMjU1}
\cl{705}{553}{MzNaMA0xCzAJBgNVBAMMAkJOMFkwEwYHKoZ IzjOCAQ}
\cl{705}{573}{YIKoZIzjODAQcDQgAEBYnXXfeUgmnMtDXU/IncWalRn}
\cl{705}{593}{ebrXmckCBxdgJ1p5Be 5F/3YC8OhhaM4ck1Mda5AETc}
\cl{705}{614}{GzkJ1My6JBHy7uzsGMMUMDMBHAwCQYDVR0TBAIwADAf}
\cl{705}{634}{N VHSMEGDAWgBRm3WjLa38LbEYCu1CPctOZa5ED2DAO}
\cl{705}{655}{BgNVHQ8BAf8EBAMCB sAwEwYDVR0 lBAwwCgYIKwYBBQ}
\cl{705}{675}{UHAwIwHQYDVR0OBAQH/BBPWEYSPYmRjQ2V4YWlwb2UuY}
\cl{705}{695}{20VRHoQCCq GGMHOBAMCA0gAMEUCIBddo/rSvoL6G3V}
\cl{705}{716}{11L4/D16Y0BQGbMjeSkCIdFCG0BBTA1EAx/k HSB4ur}
\cl{705}{736}{m32BNXSrSXarmPKdWwmuydBVoUHhBVZ1yMk=:}
\tl{320}{656}{7.2}{The value of the \textcolor{rfc}{\mono\bfseries Client-Cert}}
\tl{320}{684}{7.2}{HTTP field is a \textbf{Byte Sequence}}
\tl{320}{711}{7.2}{(}
\rfcb{t2}{330}{699}{430}{724}{RFC 8941}
\tl{439}{711}{7.2}{) representing the}
\tl{320}{738}{7.2}{DER-encoded client certificate.}
\cpt{na}{636}{698}
\draw[dar] (na) -- (ex.west |- na);
\end{scope}

% ---------------- Panel 9
\begin{scope}[pn={15}{808},name prefix=p9-]
\fill[white] (6,9) rectangle (1367,773);
\ptitle{686}{32}{12.6}{DPoP-Bound Access Token}
\tc{218}{41}{7.8}{Client}
\tc{1242}{41}{7.8}{Authorization Server}
\def\cz{5.2}
\bx[fill=lbl,draw=dbl!50!black]{cl}{13}{57}{425}{764}{}
\bx[gnb,font=\fs{6.2}]{pub}{21}{65}{94}{113}{public\\key}
\bx[fill=white,draw=grn!50,text=grn!70!white,font=\fs{6.2}]{prv}{22}{221}{94}{272}{private\\key}
\draw[bar] (pub.south -| 58,0) -- (prv.north -| 58,0);
\tc[rotate=-90,font=\fs{5}]{72}{160}{5}{key pair}
\bx[orb,draw=org!80!black]{j1}{119}{65}{415}{362}{}
\tc{266}{82}{6.2}{DPoP proof JWT}
\bx[blk,draw=black]{j1h}{127}{97}{409}{198}{}
\bx[tagg]{j1ht}{336}{97}{409}{121}{header}
\cl{131}{105}{\{}
\cl{150}{130}{\jK{"typ":} \jS{"dpop+jwt"},}
\cl{150}{148}{\jK{"alg":} \jS{"Algorithm"},}
\cl{150}{167}{\jK{"jwt":}}
\bx[gnb,font=\fs{5.4}]{j1k}{216}{157}{304}{177}{public key}
\cl{131}{184}{\}}
\bx[blk,draw=black]{j1p}{127}{205}{409}{328}{}
\bx[tagg]{j1pt}{336}{207}{409}{231}{payload}
\cl{131}{217}{\{}
\cl{150}{236}{\jK{"jti":} \jS{"..."},}
\cl{150}{254}{\jK{"htm":} \jS{"POST"},}
\cl{150}{273}{\jK{"htu":} \jS{"Token Endpoint"},}
\cl{150}{291}{\jK{"iat":} \jN{Issuance Time}}
\cl{131}{310}{\}}
\bx[blk,draw=black,font=\mono\fs{5}]{j1s}{127}{334}{409}{358}{signature}
\bx[orb,draw=org!80!black]{j2}{119}{439}{415}{752}{}
\tc{266}{454}{6.2}{DPoP proof JWT}
\bx[blk,draw=black]{j2h}{127}{471}{409}{572}{}
\bx[tagg]{j2ht}{336}{471}{409}{495}{header}
\cl{131}{479}{\{}
\cl{150}{504}{\jK{"typ":} \jS{"dpop+jwt"},}
\cl{150}{522}{\jK{"alg":} \jS{"Algorithm"},}
\cl{150}{541}{\jK{"jwt":}}
\bx[gnb,font=\fs{5.4}]{j2k}{216}{531}{304}{551}{public key}
\cl{131}{558}{\}}
\bx[blk,draw=black]{j2p}{127}{579}{409}{719}{}
\bx[tagg]{j2pt}{336}{581}{409}{605}{payload}
\cl{131}{591}{\{}
\cl{150}{610}{\jK{"jti":} \jS{"..."},}
\cl{150}{628}{\jK{"htm":} \jS{"GET"},}
\cl{150}{647}{\jK{"htu":} \jS{"Resource Endpoint"},}
\cl{150}{665}{\jK{"iat":} \jN{Issuance Time},}
\cl{150}{683}{\jK{"ath":} \jS{"Access Token Hash"}}
\cl{131}{701}{\}}
\bx[blk,draw=black,font=\mono\fs{5}]{j2s}{127}{724}{409}{750}{signature}
\bx[fill=rpink,draw=red!70!black,text=white,font=\fs{6.2}]{at}{232}{378}{302}{430}{access\\token}
\tc{186}{391}{6.2}{hash}
\tc{80}{331}{6.2}{sign}
\tc{80}{721}{6.2}{sign}
\cpt{a1}{125}{165}\cpt{a2}{125}{538}\cpt{g1}{125}{347}\cpt{g2}{125}{738}\cpt{h1}{125}{685}
\draw[dar] (pub.east) -- (103,88) -- (103,538) -- (a2);
\draw[dar] (103,165) -- (a1);
\draw[dar,draw=grn!80!black] (prv.south) -- (58,738) -- (g2);
\draw[dar,draw=grn!80!black] (58,347) -- (g1);
\draw[dar,draw=red!60!white] (at.west) -- (80,404) -- (80,685) -- (h1);
% blocks
\bx[dblue,draw=dbl!60!black]{as}{1124}{57}{1362}{451}{}
\bx[plum]{rsv}{592}{550}{831}{764}{}
\bx[blue,font=\fs{6.4},align=left]{te}{1103}{192}{1200}{243}{Token\\Endpoint}
\bx[blue,font=\fs{6.4},align=left]{ie}{1107}{392}{1238}{441}{Introspection\\Endpoint}
\cpt{yt}{0}{205}\cpt{yr}{0}{230}\cpt{irq}{1107}{403}\cpt{irs}{1107}{427}
\draw[ar] (cl.east |- yt) -- (te.west |- yt);
\draw[ar] (te.west |- yr) -- (470,230) -- (470,390) -- (at.east |- 0,390);
\draw[ar] (425,402) -- (470,402) -- (470,597) -- (rsv.west |- 0,597);
\tl{470}{78}{7.4}{Token Request}
\bx[blk,draw=black]{b1}{470}{93}{919}{205}{}
\cl{474}{105}{\hM{POST} \hU{https://as.example.com/token}}
\cl{474}{127}{\hH{Content-Type:} application/x-www-form-urlencoded}
\cl{474}{150}{\hH{DPoP:}}
\bx[orb,font=\fs{5.6}]{tg1}{530}{141}{669}{159}{DPoP proof JWT}
\cl{474}{188}{\jK{grant\_type=...\&...}}
\draw[dar,draw=org] (j1.east |- 0,150) -- (468,150);
\tl{477}{255}{7.4}{Token Response}
\bx[blk,draw=olv]{b2}{470}{270}{831}{391}{}
\cl{474}{283}{\{}
\cl{493}{301}{\jK{"access\_token":} \jS{"GSIBUjILx9z1P021"},}
\cl{493}{319}{\jK{"token\_type":} \jS{"DPoP"},}
\cl{493}{337}{\jK{"expires\_in":} \jN{86400},}
\cl{493}{355}{\jK{"scope":} \jS{"resource"}}
\cl{474}{373}{\}}
\tl{477}{425}{7.4}{Resource Request}
\bx[blk,draw=black]{b3}{470}{440}{831}{512}{}
\cl{474}{450}{\hM{GET} \hU{https://as.example.com/resource/1}}
\cl{474}{473}{\hH{Authorization:} \jS{DPoP}}
\bx[fill=rpink,draw=rpink,text=white,font=\fs{5.4}]{tg2}{661}{464}{773}{483}{access token}
\cl{474}{495}{\hH{DPoP:}}
\bx[orb,font=\fs{5.6}]{tg3}{530}{486}{669}{505}{DPoP proof JWT}
\draw[dar,draw=org] (j2.east |- 0,495) -- (468,495);
\draw[dar,draw=red!60!white] (at.east |- 0,413) -- (440,413) -- (440,473) -- (b3.west |- 0,473);
\tc{712}{535}{7.8}{Resource Server}
\bx[orb,draw=black!60]{j3}{602}{561}{731}{677}{}
\tc{666}{575}{5.8}{DPoP proof JWT}
\bx[blk,draw=black,font=\mono\fs{5}]{j3h}{608}{592}{722}{615}{header}
\bx[blk,draw=black,font=\mono\fs{5}]{j3p}{608}{620}{722}{643}{payload}
\bx[blk,draw=black,font=\mono\fs{5}]{j3s}{608}{648}{722}{672}{signature}
\bx[gnb,font=\fs{6.2}]{pk3}{750}{581}{822}{627}{public\\key}
\draw[dar] (j3h.east) -- (pk3.west |- j3h.east);
\draw[dar] (790,627) .. controls (790,650) and (760,660) .. (j3s.east);
\tc{765}{667}{5.8}{verify}
\tc{708}{700}{5.6}{JWK SHA-256 Thumbprint}
\bx[orb,font=\mono\fs{5.2}]{th}{603}{728}{822}{756}{@ZcOCORZNYy-Dwpqq...}
\draw[dar] (805,627) -- (805,720);
\draw[dar,draw=org!70!black] (tg3.south -| 537,0) .. controls (540,545) and (560,572) .. (602,574);
\draw[ar] (831,692) -- (850,692) -- (850,403) -- (irq);
\draw[ar] (irs) -- (872,427) -- (872,717) -- (833,717);
\tl{856}{387}{7.4}{Introspection Request}
\tl{878}{457}{7.4}{Introspection Response}
\bx[blk,draw=black]{b4}{872}{470}{1362}{720}{}
\cl{876}{483}{\{}
\cl{895}{503}{\jK{"active":}\Q{4}\jN{true},}
\cl{895}{521}{\jK{"iss":}\Q{7}\jS{"https://as.example.com"},}
\cl{895}{540}{\jK{"sub":}\Q{7}\jS{"user-001"},}
\cl{895}{558}{\jK{"client\_id":}\Q{1}\jS{"app-001"},}
\cl{895}{576}{\jK{"scope":}\Q{5}\jS{"resource"},}
\cl{895}{594}{\jK{"cnf":} \{}
\cl{912}{612}{\jK{"jkt":}}
\cl{930}{630}{\jS{"@ZcOCORZNYy-Dwpqq30jZyJGHTN0d2HglBV3uIguA4I"}}
\cl{895}{650}{\},}
\cl{895}{668}{\jK{"iat":}\Q{7}\jN{1746500400},}
\cl{895}{686}{\jK{"exp":}\Q{7}\jN{1746504000}}
\cl{876}{704}{\}}
\tc[text=red!85!black]{995}{742}{7.6}{compare}
\cpt{cp1}{945}{742}\cpt{cp2}{1045}{742}
\draw[dar,draw=black!60] (th.east |- cp1) -- (cp1);
\draw[dar,draw=black!60] (1167,645) -- (1167,742) -- (cp2);
\bx[orb,draw=black!60]{j4}{1132}{66}{1262}{184}{}
\tc{1197}{80}{5.8}{DPoP proof JWT}
\bx[blk,draw=black,font=\mono\fs{5}]{j4h}{1138}{97}{1254}{121}{header}
\bx[blk,draw=black,font=\mono\fs{5}]{j4p}{1138}{125}{1254}{149}{payload}
\bx[blk,draw=black,font=\mono\fs{5}]{j4s}{1138}{154}{1254}{178}{signature}
\bx[gnb,font=\fs{6.2}]{pk4}{1282}{85}{1352}{134}{public\\key}
\draw[war] (j4h.east) -- (pk4.west |- j4h.east);
\draw[war] (1312,134) .. controls (1312,150) and (1285,165) .. (j4s.east);
\tc[text=white]{1295}{173}{5.8}{verify}
\tc[text=white]{1238}{260}{5.6}{JWK SHA-256 Thumbprint}
\draw[dar,draw=org] (te.north east) ++(0,26) .. controls (1215,215) and (1228,205) .. (1228,186);
\draw[war] (1340,134) -- (1340,278);
\fill[pal,draw=black!25] (1245,361) ellipse [x radius=34.5pt,y radius=4.3pt];
\fill[pal] (1141,291) rectangle (1348,361);
\draw[black!25] (1141,291) -- (1141,361) (1348,291) -- (1348,361);
\fill[pal,draw=black!25] (1245,291) ellipse [x radius=34.5pt,y radius=4.3pt];
\tc{1232}{290}{5.8}{access token table}
\bx[fill=cellb,draw=black!50,font=\fs{5.6}]{v1}{1150}{313}{1216}{337}{value}
\bx[fill=cellb,draw=black!50,font=\mono\fs{5}]{v2}{1216}{313}{1309}{337}{dpop\_jkt}
\bx[fill=cellb,draw=black!50,font=\fs{5.6}]{v3}{1309}{313}{1340}{337}{...}
\bx[fill=white,draw=black!50,font=\mono\fs{5}]{w1}{1150}{337}{1216}{360}{GSIB...}
\bx[fill=white,draw=black!50,font=\mono\fs{5}]{w2}{1216}{337}{1309}{360}{@ZcOCO...}
\bx[fill=white,draw=black!50,font=\fs{5.6}]{w3}{1309}{337}{1340}{360}{...}
\draw[war] (1238,405) .. controls (1258,402) and (1272,390) .. (1278,376);
\draw[war] (1295,373) .. controls (1290,400) and (1265,425) .. (1240,427);
\end{scope}

% ---------------- Panel 10
\begin{scope}[pn={490}{808},name prefix=pa-]
\fill[white] (9,9) rectangle (1371,773);
\ptitle{690}{100}{19.5}{Syntax of the Signature Base}
\bx[sbox]{b1}{50}{188}{1337}{271}{}
\bx[sbox]{b2}{50}{310}{678}{391}{}
\bx[sbox]{b3}{821}{310}{1337}{391}{}
\bx[sbox]{b4}{50}{430}{459}{512}{}
\bx[sbox]{b5}{766}{430}{1337}{512}{}
\bx[sbox]{b6}{533}{551}{870}{632}{}
\bx[sbox]{b7}{898}{551}{1337}{632}{}
\bx[sbox]{b8}{70}{670}{194}{752}{}
\bx[sbox]{b9}{920}{670}{1337}{752}{}
\bx[sm,fill=dbl,text=white]{s1}{70}{210}{351}{250}{signature-base-line}
\bx[sm,fill=spg]{lf1}{351}{210}{391}{250}{LF}
\tc[font=\mono\fs{7.7},text=black!50]{532}{230}{7.7}{..................}
\bx[sm,fill=dbl,text=white]{s2}{671}{210}{955}{250}{signature-base-line}
\bx[sm,fill=spg]{lf2}{955}{210}{995}{250}{LF}
\bx[sm,fill=orange!95!red,text=white]{s3}{995}{210}{1316}{250}{signature-params-line}
\bx[sm,fill=cyan!55!blue!85!white,text=white]{c1}{70}{331}{361}{371}{component-identifier}
\tc[font=\mono\bfseries\fs{7.7}]{378}{351}{7.7}{:}
\bx[sm,fill=spg]{sp1}{391}{331}{431}{371}{SP}
\bx[sm,fill=cellb]{c2}{431}{331}{662}{371}{component-value}
\rfcb{t1}{1216}{298}{1316}{326}{RFC 8941}
\tr[font=\mono\bfseries\fs{7.2}]{1114}{351}{7.2}{"@signature-params":}
\bx[sm,fill=spg]{sp2}{1122}{331}{1163}{371}{SP}
\bx[sm,fill=dpur,text=white]{il}{1163}{331}{1316}{371}{inner-list}
\bx[sm,fill=gcell!60!green!80!black,text=white]{cn}{70}{451}{280}{491}{component-name}
\bx[sm,fill=lpur]{pa}{280}{451}{437}{491}{parameters}
\tc[font=\mono\bfseries\fs{7.7}]{787}{471}{7.7}{(}
\bx[sm,fill=dpur,text=white]{i1}{801}{451}{915}{491}{sf-item}
\bx[sm,fill=spg]{sp3}{915}{451}{955}{491}{SP}
\tc[font=\mono\fs{7.7},text=black!50]{985}{471}{7.7}{...}
\bx[sm,fill=dpur,text=white]{i2}{1011}{451}{1125}{491}{sf-item}
\tc[font=\mono\bfseries\fs{7.7}]{1138}{471}{7.7}{)}
\bx[sm,fill=lpur]{pb}{1160}{451}{1316}{491}{parameters}
\rfcb{t2}{110}{539}{210}{566}{RFC 8941}
\bx[sm,fill=dpur,text=white]{sf}{70}{572}{210}{612}{sf-string}
\bx[sm,fill=dpur,text=white]{bi}{553}{572}{695}{612}{bare-item}
\bx[sm,fill=lpur]{pc}{695}{572}{850}{612}{parameters}
\tc[font=\mono\bfseries\fs{7.7}]{921}{592}{7.7}{;}
\bx[sm,fill=red!12!white,draw=gcell!50!black]{p1}{938}{572}{1080}{612}{parameter}
\tc[font=\mono\fs{7.7},text=black!50]{1115}{592}{7.7}{...}
\tc[font=\mono\bfseries\fs{7.7}]{1158}{592}{7.7}{;}
\bx[sm,fill=red!12!white,draw=gcell!50!black]{p2}{1175}{572}{1316}{612}{parameter}
\tc[font=\mono\fs{7.7}]{88}{712}{7.7}{"}
\bx[sm,fill=magenta!60!purple!70!white,draw=sbd,text=white]{ch}{98}{692}{150}{733}{chr}
\tc[font=\mono\fs{7.7}]{172}{712}{7.7}{"}
\tl[font=\mono\fs{7.7},text=dpur!80!white]{232}{697}{7.7}{bare-item = sf-integer / sf-decimal / sf-string}
\tl[font=\mono\fs{7.7},text=dpur!80!white]{373}{728}{7.7}{/ sf-token / sf-binary / sf-boolean}
\bx[sm,fill=yellow!18!white,draw=gcell!50!black]{pk}{941}{692}{1085}{733}{param-key}
\tc[font=\mono\fs{7.7}]{1108}{712}{7.7}{[=}
\bx[sm,fill=yellow!18!white,draw=gcell!50!black]{pv}{1130}{692}{1302}{733}{param-value}
\tc[font=\mono\fs{7.7}]{1312}{712}{7.7}{]}
\draw[fan,draw=dbl!70] (s1.south west) -- (b2.north west);
\draw[fan,draw=dbl!70] (lf1.south west) -- (b2.north east);
\draw[fan,draw=orange] (s3.south west) -- (b3.north west);
\draw[fan,draw=orange] (s3.south east) -- (b3.north east);
\draw[fan,draw=cyan!70!blue] (c1.south west) -- (b4.north west);
\draw[fan,draw=cyan!70!blue] (c1.south east) -- (b4.north east);
\draw[fan,draw=dpur] (il.south west) -- (b5.north west);
\draw[fan,draw=dpur] (il.south east) -- (b5.north east);
\draw[fan,draw=gcell] (cn.south west) -- (sf.north west);
\draw[fan,draw=gcell] (cn.south east) -- (sf.north east);
\draw[fan,draw=dpur] (sf.south west) -- (b8.north west);
\draw[fan,draw=lpur] (sf.south east) -- (b8.north east);
\draw[fan,draw=dpur] (i1.south west) -- (b6.north west);
\draw[fan,draw=dpur] (i1.south east) -- (b6.north east);
\draw[fan,draw=lpur] (pb.south west) -- (b7.north west);
\draw[fan,draw=lpur] (pb.south east) -- (b7.north east);
\draw[fan,draw=red!30!white] (p2.south west) -- (b9.north west);
\draw[fan,draw=red!30!white] (p2.south east) -- (b9.north east);
\end{scope}

% ---------------- Panel 11
\begin{scope}[pn={965}{808},name prefix=pb-]
\fill[white] (12,9) rectangle (1374,773);
\ptitle{692}{100}{19.5}{Request Verification Key Retrieval Options}
\cpt{dl}{12}{471}\cpt{dr}{1374}{471}
\draw[line width=1.2pt,black!60] (dl) -- (dr);
\newcommand\vkrow[6]{%
\begin{scope}[shift={(0,#1)},name prefix=#2-]
\tc[font=\bfseries\fs{10.4}]{116}{331}{10.4}{#3}
\bx[blue]{cl}{212}{189}{736}{451}{}\tc{471}{218}{8.6}{Client}
\bx[plum]{rs}{969}{189}{1352}{451}{}\tc{1160}{218}{8.6}{Resource Server}
\bx[#4]{o1}{434}{250}{717}{371}{}\tc[#6]{574}{278}{8.2}{#5}
\bx[#4]{o2}{989}{250}{1270}{371}{}\tc[#6]{1130}{278}{8.2}{#5}
\bx[gnb,font=\fs{7.4}]{k1}{515}{310}{635}{351}{public key}
\bx[gnb,font=\fs{7.4}]{k2}{1069}{310}{1190}{351}{public key}
\bx[pk,font=\fs{7.4}]{pv}{233}{311}{354}{350}{private key}
\bx[rfcs,draw=gcell!60!black,font=\fs{7.4}]{h1}{434}{391}{717}{432}{HTTP message signature}
\bx[rfcs,draw=gcell!60!black,font=\fs{7.4}]{h2}{989}{391}{1270}{432}{HTTP message signature}
\draw[dbar] (pv.east) -- (k1.west);
\tc{405}{313}{7.2}{pair}
\draw[dar] (pv.south) .. controls (300,385) and (370,411) .. (h1.west);
\tc{367}{382}{7.2}{sign}
\cpt{y1}{0}{310}\cpt{y2}{0}{379}
\draw[dar] (o1.east |- y1) -- (o2.west |- y1);
\draw[dar] (h1.east) -- (h2.west);
\draw[ar] (cl.east |- y2) -- (rs.west |- y2);
\tc{852}{358}{7.7}{request}
\draw[dar] (k2.east) .. controls (1260,340) and (1300,350) .. (1298,375) .. controls (1296,395) and (1285,405) .. (h2.east);
\tc{1310}{337}{7}{verify}
\end{scope}}
\vkrow{0}{m}{MTLS}{crt}{Client Certificate}{}
\vkrow{301}{d}{DPoP}{box,fill=org,draw=black!70}{DPoP proof JWT}{}
\end{scope}

% ---------------- Panel 12
\begin{scope}[pn={1442}{808},name prefix=pc-]
\fill[white] (12,9) rectangle (1371,773);
\ptitle{690}{100}{19.5}{Response Verification Key Retrieval}
\tc{421}{172}{8.4}{Client}
\tc{1149}{172}{8.4}{Resource Server}
\bx[fill=lbl,draw=lbd]{cl}{19}{189}{824}{764}{}
\bx[plum]{rs}{939}{189}{1361}{764}{}
\bx[fill=white,draw=black!80]{e1}{918}{209}{1340}{274}{}
\cl[text=black,font=\mono\fs{5.3}]{927}{242}{/.well-known/oauth-protected-resource}
\bx[fill=white,draw=black!80]{e2}{918}{293}{1340}{358}{}
\tl{934}{326}{8.4}{JWK Set Document Endpoint}
\bx[fill=white,draw=black!80]{e3}{918}{687}{1340}{752}{}
\tl{934}{720}{8.4}{Protected Resource Endpoint}
\bx[grycell]{md}{41}{242}{473}{382}{}
\bx[tagk]{mdt}{192}{243}{473}{272}{Resource Server Metadata}
\def\cz{7}
\cl[text=black!70]{45}{262}{\{}
\cl[text=black!70]{72}{289}{\lR{"jwks\_uri"}:}
\cl[text=black!70]{95}{315}{\lS{"https://rs.example.com/jwks"},}
\cl[text=black!70]{72}{342}{...}
\cl[text=black!70]{45}{366}{\}}
\rfcb{t1}{370}{352}{470}{379}{RFC 9728}
\bx[grycell]{js}{493}{326}{799}{523}{}
\bx[tagk]{jst}{578}{327}{799}{357}{JWK Set Document}
\rfcb{t2}{695}{363}{795}{390}{RFC 7517}
\cl[text=black!70]{498}{355}{\{}
\cl[text=black!70]{524}{382}{\lR{"keys"}: [}
\cl[text=black!70]{548}{408}{\{}
\cl[text=black!70]{572}{432}{\lK{"kid"}: \lS{"key-001"},}
\cl[text=black!70]{572}{458}{...}
\cl[text=black!70]{548}{483}{\}, ...}
\cl[text=black!70]{498}{507}{\}}
\tl{40}{528}{8.5}{Part of Resource Response}
\bx[blk,draw=black]{sg}{40}{547}{535}{752}{}
\def\cz{6.9}
\cl{48}{572}{\jK{......}}
\cl{48}{601}{\hH{Signature-Input:} \jS{sig1}=(\jK{"@method"};\jN{req}}
\cl{48}{634}{\jK{"@target-uri"};\jN{req} \jK{"authorization"};\jN{req}}
\cl{48}{667}{\jK{"dpop"};\jN{req} \jK{"@status"} \jK{"content-digest"})}
\cl{48}{699}{\jN{;created}=\hU{1746500400};\jN{keyid}=\hU{"key-001"}}
\cl{48}{732}{\jN{;tag}=\jK{"fapi-2-response"}}
\cpt{y1}{0}{226}\cpt{y2}{0}{258}\cpt{y3}{0}{311}\cpt{y4}{0}{343}\cpt{y5}{0}{703}\cpt{y6}{0}{736}
\draw[ar] (cl.east |- y1) -- (e1.west |- y1);
\draw[ar] (e1.west |- y2) -- (md.east |- y2);
\draw[ar] (455,311) -- (e2.west |- y3);
\draw[ar] (e2.west |- y4) -- (js.east |- y4);
\draw[ar] (cl.east |- y5) -- (e3.west |- y5);
\draw[ar] (e3.west |- y6) -- (sg.east |- y6);
\cpt{ra}{715}{450}\cpt{rb}{490}{697}
\draw[bar,draw=red!80!black,densely dotted,line width=.9pt] (ra) -- (715,697) -- (rb);
\end{scope}
\end{tikzpicture}
\end{document}
